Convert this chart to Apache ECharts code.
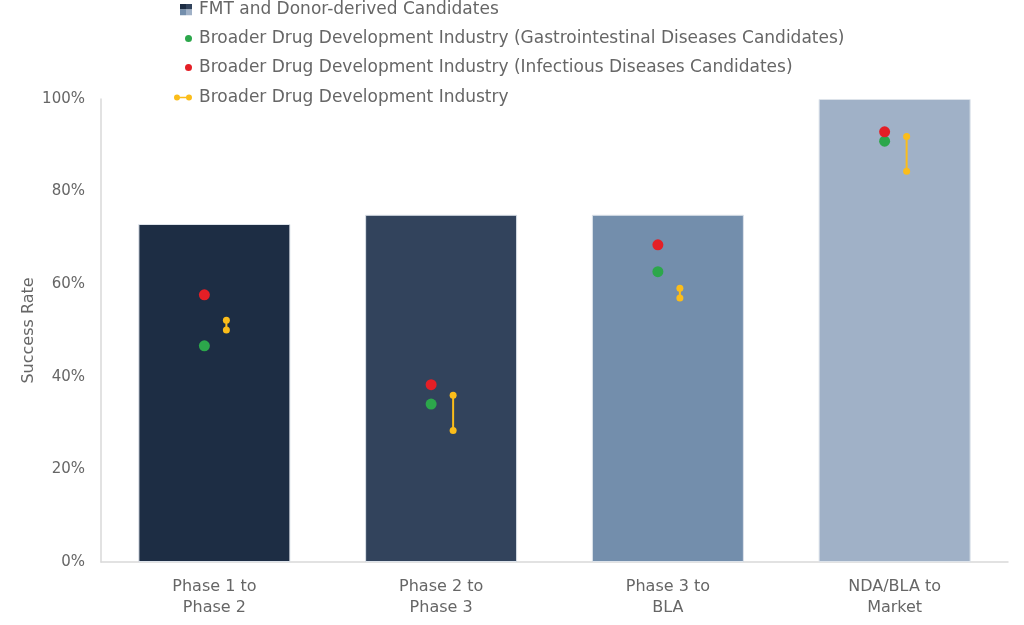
<!DOCTYPE html>
<html>
<head>
<meta charset="utf-8">
<script src="https://cdn.jsdelivr.net/npm/echarts@6/dist/echarts.min.js"></script>
<style>
  html, body { margin: 0; padding: 0; background: #fff; }
  #chart { width: 1024px; height: 625px; }
</style>
</head>
<body>
<div id="chart"></div>
<script>
const chart = echarts.init(document.getElementById('chart'));

// 数据
const categories = ['Phase 1 to\nPhase 2', 'Phase 2 to\nPhase 3', 'Phase 3 to\nBLA', 'NDA/BLA to\nMarket'];
const fmtRates = [73, 75, 75, 100];
const giRates = [46.7, 34.1, 62.7, 90.9];
const infectiousRates = [57.7, 38.3, 68.5, 92.9];
const industryHigh = [52.2, 36.0, 59.1, 91.9];
const industryLow = [50.1, 28.4, 57.0, 84.4];

const barColors = ['#1d2d44', '#32435c', '#738eac', '#a0b1c7'];
const textColor = '#666666';
const fontFamily = '"DejaVu Sans", sans-serif';

const quadIcon = 'image://data:image/svg+xml;utf8,' + encodeURIComponent(
  '<svg xmlns="http://www.w3.org/2000/svg" width="12" height="12">' +
  '<rect x="0" y="0" width="6" height="6" fill="#1d2d44"/>' +
  '<rect x="6" y="0" width="6" height="6" fill="#32435c"/>' +
  '<rect x="0" y="6" width="6" height="6" fill="#738eac"/>' +
  '<rect x="6" y="6" width="6" height="6" fill="#a0b1c7"/></svg>');

// 图例：线段两端各一个圆点
const dumbbellIcon = 'path://M3,0A3,3,0,1,1,2.99,0ZM15,0A3,3,0,1,1,14.99,0ZM3,2.2L15,2.2L15,3.8L3,3.8Z';

function legendItem(name, icon, top, w, h, left) {
  return {
    data: [{ name: name, icon: icon }],
    left: left,
    top: top,
    itemWidth: w,
    itemHeight: h,
    itemGap: 0,
    padding: 0,
    selectedMode: false,
    textStyle: { color: textColor, fontSize: 17, fontFamily: fontFamily, padding: [0, 0, 0, 194 - left - w] }
  };
}

chart.setOption({
  animation: false,
  legend: [
    legendItem('FMT and Donor-derived Candidates', quadIcon, 1, 12, 12, 180),
    legendItem('Broader Drug Development Industry (Gastrointestinal Diseases Candidates)', 'circle', 30, 7, 7, 185),
    legendItem('Broader Drug Development Industry (Infectious Diseases Candidates)', 'circle', 59, 7, 7, 185),
    legendItem('Broader Drug Development Industry', dumbbellIcon, 89, 18, 6, 174)
  ],
  grid: { left: 101, right: 16, top: 99, bottom: 63 },
  xAxis: {
    type: 'category',
    data: categories,
    axisLine: { lineStyle: { color: '#d9d9d9', width: 1.5 } },
    axisTick: { show: false },
    axisLabel: { color: textColor, fontSize: 16, fontFamily: fontFamily, lineHeight: 21, margin: 14 }
  },
  yAxis: {
    type: 'value',
    min: 0,
    max: 100,
    interval: 20,
    name: 'Success Rate',
    nameLocation: 'middle',
    nameGap: 64,
    nameMoveOverlap: false,
    nameTextStyle: { color: textColor, fontSize: 16, fontFamily: fontFamily },
    axisLine: { show: true, lineStyle: { color: '#d9d9d9', width: 1.5 } },
    axisTick: { show: false },
    splitLine: { show: false },
    axisLabel: { color: textColor, fontSize: 15, fontFamily: fontFamily, margin: 16, formatter: '{value}%' }
  },
  series: [
    {
      name: 'FMT and Donor-derived Candidates',
      type: 'bar',
      barWidth: 152,
      data: fmtRates.map((v, i) => ({
        value: v,
        itemStyle: { color: barColors[i], borderColor: '#dde3ea', borderWidth: 1 }
      })),
      z: 1
    },
    {
      name: 'Broader Drug Development Industry (Gastrointestinal Diseases Candidates)',
      type: 'scatter',
      data: giRates,
      symbolSize: 11,
      symbolOffset: [-10, 0],
      itemStyle: { color: '#2ca74b', opacity: 1 },
      z: 3
    },
    {
      name: 'Broader Drug Development Industry (Infectious Diseases Candidates)',
      type: 'scatter',
      data: infectiousRates,
      symbolSize: 11,
      symbolOffset: [-10, 0],
      itemStyle: { color: '#e41f26', opacity: 1 },
      z: 4
    },
    {
      name: 'Broader Drug Development Industry',
      type: 'custom',
      itemStyle: { color: '#fbbd1a' },
      data: industryHigh.map((v, i) => [i, v, industryLow[i]]),
      encode: { x: 0, y: [1, 2] },
      renderItem: function (params, api) {
        const top = api.coord([api.value(0), api.value(1)]);
        const bottom = api.coord([api.value(0), api.value(2)]);
        const x = top[0] + 12;
        const color = '#fbbd1a';
        return {
          type: 'group',
          children: [
            { type: 'line', shape: { x1: x, y1: top[1], x2: x, y2: bottom[1] }, style: { stroke: color, lineWidth: 2 } },
            { type: 'circle', shape: { cx: x, cy: top[1], r: 3.5 }, style: { fill: color } },
            { type: 'circle', shape: { cx: x, cy: bottom[1], r: 3.5 }, style: { fill: color } }
          ]
        };
      },
      z: 5
    }
  ]
});
</script>
</body>
</html>
